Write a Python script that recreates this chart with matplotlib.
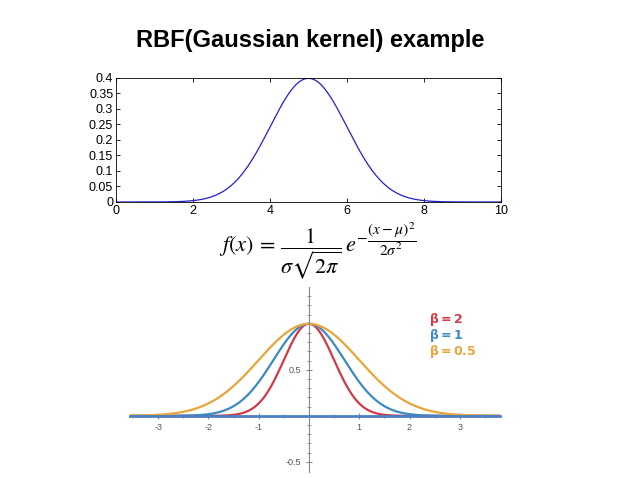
import numpy as np
import matplotlib.pyplot as plt

# top panel: normal pdf parameters
mu = 5.0
sigma = 1.0
top_xticks = [0, 2, 4, 6, 8, 10]
top_yticks = [0, 0.05, 0.1, 0.15, 0.2, 0.25, 0.3, 0.35, 0.4]
top_ylabels = ['0', '0.05', '0.1', '0.15', '0.2', '0.25', '0.3', '0.35', '0.4']

# bottom panel: RBF kernels exp(-beta x^2)
betas = [2, 1, 0.5]
beta_labels = [r'$\mathbf{\beta = 2}$', r'$\mathbf{\beta = 1}$', r'$\mathbf{\beta = 0.5}$']
beta_colors = ['#d23a45', '#3b8ac4', '#e9a53a']
bot_xticks = [-3, -2, -1, 1, 2, 3]
bot_yticks = [-0.5, 0.5]

W, H = 638, 478
fig = plt.figure(figsize=(W / 100, H / 100), dpi=100)
plt.rcParams['font.family'] = ['Liberation Sans', 'DejaVu Sans']
plt.rcParams['axes.unicode_minus'] = False

def box(l, t, r, b):
    return [l / W, 1 - b / H, (r - l) / W, (b - t) / H]

fig.text(310 / W, 1 - 40 / H, 'RBF(Gaussian kernel) example', ha='center', va='center',
         fontsize=17, fontweight='bold')

# top plot
ax1 = fig.add_axes(box(116, 78, 501, 202))
x1 = np.linspace(0, 10, 400)
ax1.plot(x1, np.exp(-(x1 - mu) ** 2 / (2 * sigma ** 2)) / (sigma * np.sqrt(2 * np.pi)),
         color='#2020d0', lw=0.9)
ax1.set_xlim(0, 10)
ax1.set_ylim(0, 0.4)
ax1.set_xticks(top_xticks)
ax1.set_yticks(top_yticks)
ax1.set_yticklabels(top_ylabels)
ax1.tick_params(labelsize=9, direction='in', length=3, width=0.6, top=True, right=True, pad=2)
for s in ax1.spines.values():
    s.set_linewidth(0.6)

# formula
fig.text(318 / W, 1 - 251 / H,
         r'$f(x)\,=\,\dfrac{1}{\sigma\sqrt{2\pi}}\,e^{-\dfrac{(x-\mu)^2}{2\sigma^2}}$',
         ha='center', va='center', fontsize=16, math_fontfamily='stix')

# bottom plot
ax2 = fig.add_axes(box(130, 287, 500, 472))
x2 = np.linspace(-3.56, 3.8, 500)
for b, c in zip(betas, beta_colors):
    ax2.plot(x2, np.exp(-b * x2 ** 2), color=c, lw=1.6)
ax2.set_xlim(-3.56, 3.8)
ax2.set_ylim(-0.61, 1.40)
for s in ['top', 'right']:
    ax2.spines[s].set_visible(False)
ax2.spines['left'].set_position(('data', 0))
ax2.spines['bottom'].set_position(('data', 0))
ax2.spines['left'].set_color('#888888')
ax2.spines['left'].set_linewidth(0.8)
ax2.spines['bottom'].set_color('#4a7fc0')
ax2.spines['bottom'].set_linewidth(2)
ax2.spines['bottom'].set_zorder(3)
ax2.set_xticks(bot_xticks)
ax2.set_yticks(bot_yticks)
ax2.set_xticks(np.arange(-3.5, 3.6, 0.5), minor=True)
ax2.set_yticks(np.arange(-0.5, 1.4, 0.1), minor=True)
ax2.tick_params(which='both', direction='inout', colors='#888888', labelcolor='#555555',
                labelsize=6.5, length=4)
ax2.tick_params(which='minor', length=3)
for i, (lab, c) in enumerate(zip(beta_labels, beta_colors)):
    fig.text(429 / W, 1 - (320 + 15.5 * i) / H, lab, color=c, fontsize=9, va='center')

fig.savefig('out.png', dpi=100)
